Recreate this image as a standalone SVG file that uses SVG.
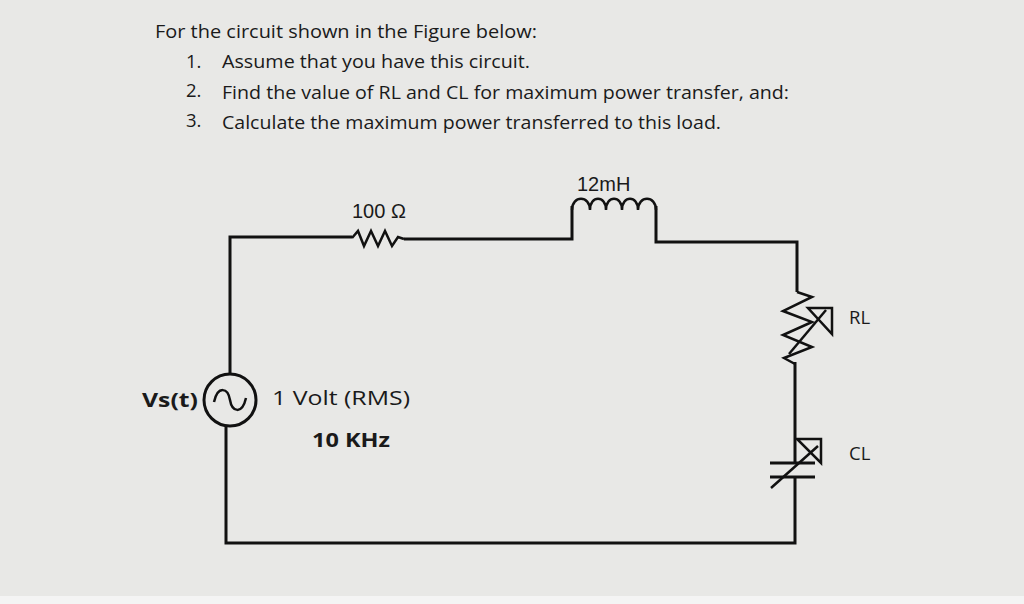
<svg xmlns="http://www.w3.org/2000/svg" width="1024" height="604" viewBox="0 0 1024 604">
<style>
.t{font-family:"Open Sans","Liberation Sans",sans-serif;font-size:18.5px;fill:#1a1a1a}
.b{font-size:20px}
.w{fill:none;stroke:#111;stroke-width:3;stroke-linejoin:miter}
.c{fill:none;stroke:#111;stroke-width:2.5}
</style>
<rect width="1024" height="604" fill="#e8e8e6"/>
<rect y="596" width="1024" height="8" fill="#f4f4f4"/>
<g id="question">
<text class="t" x="155" y="38" textLength="382" lengthAdjust="spacingAndGlyphs">For the circuit shown in the Figure below:</text>
<text class="t" x="186" y="68">1.</text><text class="t" x="222" y="68" textLength="308" lengthAdjust="spacingAndGlyphs">Assume that you have this circuit.</text>
<text class="t" x="186" y="97">2.</text><text class="t" x="222" y="99" textLength="567" lengthAdjust="spacingAndGlyphs">Find the value of RL and CL for maximum power transfer, and:</text>
<text class="t" x="186" y="127">3.</text><text class="t" x="222" y="129" textLength="499" lengthAdjust="spacingAndGlyphs">Calculate the maximum power transferred to this load.</text>
</g>
<g id="connectors">
<path class="w" d="M230 373 V237 H352"/>
<path class="w" d="M404 239 H572 V206"/>
<path class="w" d="M656 206 V242 H797 V292"/>
<path class="w" d="M795 362 V463"/>
<path class="w" d="M795 477 V543 H226 V427"/>
</g>
<g id="source">
<circle class="w" cx="230" cy="400" r="26"/>
<path class="c" d="M214 402 C218 385 228 388 230 400 C232 412 242 415 246 398"/>
<text class="t b" x="142" y="407" font-weight="bold" textLength="56" lengthAdjust="spacingAndGlyphs">Vs(t)</text>
<text class="t b" x="272" y="405" textLength="138" lengthAdjust="spacingAndGlyphs">1 Volt (RMS)</text>
<text class="t b" x="312" y="447" font-weight="bold" textLength="78" lengthAdjust="spacingAndGlyphs">10 KHz</text>
</g>
<g id="resistor">
<path class="c" d="M352 238 L358 231 L364 246 L371 231 L378 246 L385 231 L392 246 L398 237 L404 239"/>
<text x="352" y="218" font-family="Liberation Sans,sans-serif" font-size="20" fill="#1a1a1a">100 Ω</text>
</g>
<g id="inductor">
<path class="c" d="M572 210 C572 195 590 195 590 210 C590 195 606 195 606 210 C606 195 622 195 622 210 C622 195 638 195 638 210 C638 195 656 195 656 210"/>
<text x="577" y="191" font-family="Liberation Sans,sans-serif" font-size="20" fill="#1a1a1a">12mH</text>
</g>
<g id="RL">
<path class="c" d="M797 292 L812 297 L783 311 L812 322 L783 335 L812 347 L784 358 L795 364"/>
<path class="c" d="M789 354 L826 310"/>
<path class="c" d="M808 308 H832 V334 Z"/>
<text class="t" x="849" y="324">RL</text>
</g>
<g id="CL">
<path class="w" d="M770 463 H815 M770 477 H815"/>
<path class="c" d="M771 488 L818 446"/>
<path class="c" d="M797 439 H821 V463 Z"/>
<text class="t" x="849" y="460">CL</text>
</g>
</svg>
